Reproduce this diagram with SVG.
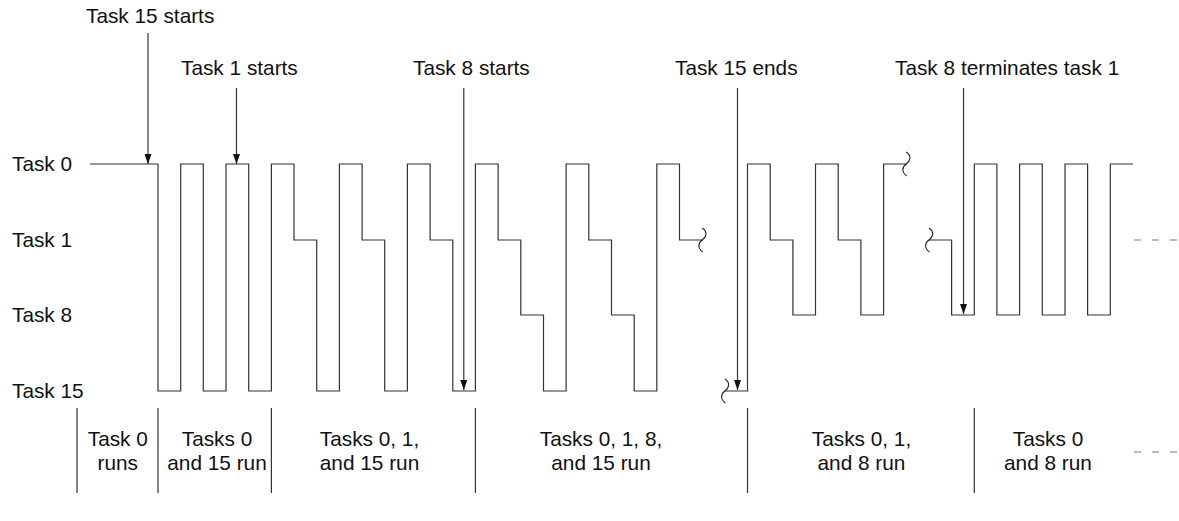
<svg xmlns="http://www.w3.org/2000/svg" width="1179" height="521" viewBox="0 0 1179 521">
<style>
text{font-family:"Liberation Sans",Arial,sans-serif;font-size:20.8px;fill:#111}
.c{text-anchor:middle}
.w{fill:none;stroke:#333;stroke-width:1.2}
.a{fill:none;stroke:#333;stroke-width:1.2}
.d{fill:none;stroke:#777;stroke-width:1.2;stroke-dasharray:7 11}
.s{fill:none;stroke:#222;stroke-width:1.1}
</style>
<defs>
<marker id="ah" markerUnits="userSpaceOnUse" markerWidth="7" markerHeight="10" refX="3.5" refY="10" orient="0" viewBox="0 0 7 10">
<path d="M0,0 L7,0 L3.5,10 z" fill="#111"/>
</marker>
</defs>
<g id="labels-left">
<text x="12" y="171">Task 0</text>
<text x="12" y="247">Task 1</text>
<text x="12" y="322">Task 8</text>
<text x="12" y="398">Task 15</text>
</g>
<g id="waveform">
<path class="w" d="M90,164 H158 V391 H180.7 V164 H203.3 V391 H226 V164 H248.7 V391 H271.4 V164 H294 V240 H316.7 V391 H339.4 V164 H362.1 V240 H384.7 V391 H407.4 V164 H430.1 V240 H452.8 V391 H475.4 V164 H498.1 V240 H520.8 V315 H543.5 V391 H566.1 V164 H588.8 V240 H611.5 V315 H634.2 V391 H656.8 V164 H679.5 V240 H702.2"/>
<path class="w" d="M724.9,391 H747.5 V164 H770.2 V240 H792.9 V315 H815.5 V164 H838.2 V240 H860.9 V315 H883.6 V164 H906.2"/>
<path class="w" d="M928.9,240 H951.6 V315 H974.3 V164 H996.9 V315 H1019.6 V164 H1042.3 V315 H1065 V164 H1087.6 V315 H1110.3 V164 H1133"/>
<path class="s" d="M702.2,228 c6,4 4,9 0,12 c-4,3 -5,8 0.5,12"/>
<path class="s" d="M906.2,152 c6,4 4,9 0,12 c-4,3 -5,8 0.5,12"/>
<path class="s" d="M928.9,228 c6,4 4,9 0,12 c-4,3 -5,8 0.5,12"/>
<path class="s" d="M724.9,379 c6,4 4,9 0,12 c-4,3 -5,8 0.5,12"/>
<path class="d" d="M1134,240 H1179"/>
</g>
<g id="connectors">
<line class="a" x1="148" y1="33" x2="148" y2="164" marker-end="url(#ah)"/>
<line class="a" x1="236.5" y1="88" x2="236.5" y2="164" marker-end="url(#ah)"/>
<line class="a" x1="463.8" y1="88" x2="463.8" y2="390" marker-end="url(#ah)"/>
<line class="a" x1="737.5" y1="88" x2="737.5" y2="390" marker-end="url(#ah)"/>
<line class="a" x1="963.5" y1="88" x2="963.5" y2="314" marker-end="url(#ah)"/>
</g>
<g id="labels-top">
<text x="86" y="23">Task 15 starts</text>
<text x="181" y="75">Task 1 starts</text>
<text x="413" y="75">Task 8 starts</text>
<text x="675" y="75">Task 15 ends</text>
<text x="895" y="75">Task 8 terminates task 1</text>
</g>
<g id="phases">
<line class="a" x1="77" y1="408" x2="77" y2="493"/>
<line class="a" x1="158" y1="408" x2="158" y2="493"/>
<line class="a" x1="271.4" y1="408" x2="271.4" y2="493"/>
<line class="a" x1="475.4" y1="408" x2="475.4" y2="493"/>
<line class="a" x1="747.5" y1="408" x2="747.5" y2="493"/>
<line class="a" x1="974.3" y1="408" x2="974.3" y2="493"/>
<text class="c" x="117.8" y="446">Task 0</text>
<text class="c" x="117.8" y="470">runs</text>
<text class="c" x="217" y="446">Tasks 0</text>
<text class="c" x="217" y="470">and 15 run</text>
<text class="c" x="369.5" y="446">Tasks 0, 1,</text>
<text class="c" x="369.5" y="470">and 15 run</text>
<text class="c" x="601" y="446">Tasks 0, 1, 8,</text>
<text class="c" x="601" y="470">and 15 run</text>
<text class="c" x="861.5" y="446">Tasks 0, 1,</text>
<text class="c" x="861.5" y="470">and 8 run</text>
<text class="c" x="1048" y="446">Tasks 0</text>
<text class="c" x="1048" y="470">and 8 run</text>
<path class="d" d="M1134,452 H1179"/>
</g>
</svg>
